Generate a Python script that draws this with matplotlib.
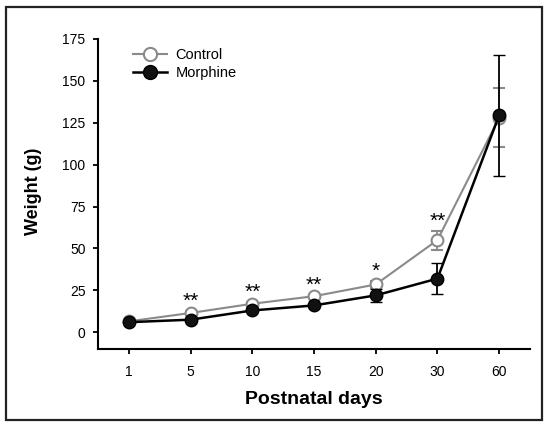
import matplotlib
matplotlib.use("Agg")
import matplotlib.pyplot as plt
from matplotlib.patches import Rectangle
from matplotlib.lines import Line2D
import numpy as np

plt.rcParams['font.family'] = ['Liberation Sans', 'DejaVu Sans']

days = ["1", "5", "10", "15", "20", "30", "60"]
control = [6.5, 11.5, 17.0, 21.5, 28.5, 55.0, 128.0]
control_err = [0.5, 1.0, 1.0, 1.0, 2.0, 5.7, 17.5]
morphine = [6.0, 7.5, 13.0, 16.0, 22.0, 32.0, 129.5]
morphine_err = [0.5, 1.0, 1.0, 1.0, 4.0, 9.2, 36.0]
stars = ["", "**", "**", "**", "*", "**", ""]
yticks = [0, 25, 50, 75, 100, 125, 150, 175]

fig = plt.figure(figsize=(5.5, 4.3), dpi=100)
ax = fig.add_axes([98/550, 1-349/430, 432/550, 310/430])

x = np.arange(len(days))
gray = "#8a8a8a"
ax.errorbar(x, control, yerr=control_err, color=gray, lw=1.5, elinewidth=1.3,
            capsize=4.5, capthick=1.3, marker='o', ms=8.5, mfc='white',
            mec=gray, mew=1.5, zorder=2)
ax.errorbar(x, morphine, yerr=morphine_err, color='black', lw=1.8, elinewidth=1.3,
            capsize=4.5, capthick=1.3, marker='o', ms=9, mfc='#111111',
            mec='black', mew=1, zorder=3)

for xi, c, e, s in zip(x, control, control_err, stars):
    if s:
        ax.annotate(s, (xi, c + e), xytext=(0, 0), textcoords='offset points',
                    ha='center', va='bottom', fontsize=15)

ax.set_xlim(-0.5, 6.5)
ax.set_ylim(-10, 175)
ax.set_xticks(x)
ax.set_xticklabels(days)
ax.set_yticks(yticks)
ax.tick_params(axis='both', direction='out', length=3.5, width=1.3, labelsize=10)
ax.tick_params(axis='x', pad=8)
ax.tick_params(axis='y', pad=5.5)
for sp in ['top', 'right']:
    ax.spines[sp].set_visible(False)
for sp in ['left', 'bottom']:
    ax.spines[sp].set_linewidth(1.5)
ax.spines['left'].set_bounds(-10, 175)

ax.set_xlabel("Postnatal days", fontsize=14, fontweight='bold')
ax.set_ylabel("Weight (g)", fontsize=13, fontweight='bold')
ax.xaxis.set_label_coords(0.5, -0.135)
ax.yaxis.set_label_coords(-0.13, 0.508)

handles = [
    Line2D([], [], color=gray, lw=1.5, marker='o', ms=9.5, mfc='white', mec=gray, mew=1.5),
    Line2D([], [], color='black', lw=1.8, marker='o', ms=10, mfc='#111111', mec='black', mew=1),
]
leg = ax.legend(handles, ["Control", "Morphine"], loc='upper left',
                bbox_to_anchor=(133/550, 1-48/430),
                bbox_transform=fig.transFigure, frameon=False, fontsize=10.5,
                handlelength=2.3, handletextpad=0.6, labelspacing=0.28,
                borderpad=0, borderaxespad=0)

fig.add_artist(Rectangle((6/550, 10/430), 536/550, 413/430, transform=fig.transFigure,
                         fill=False, lw=1.6, edgecolor='#222222'))

fig.savefig("out.png", dpi=100)
